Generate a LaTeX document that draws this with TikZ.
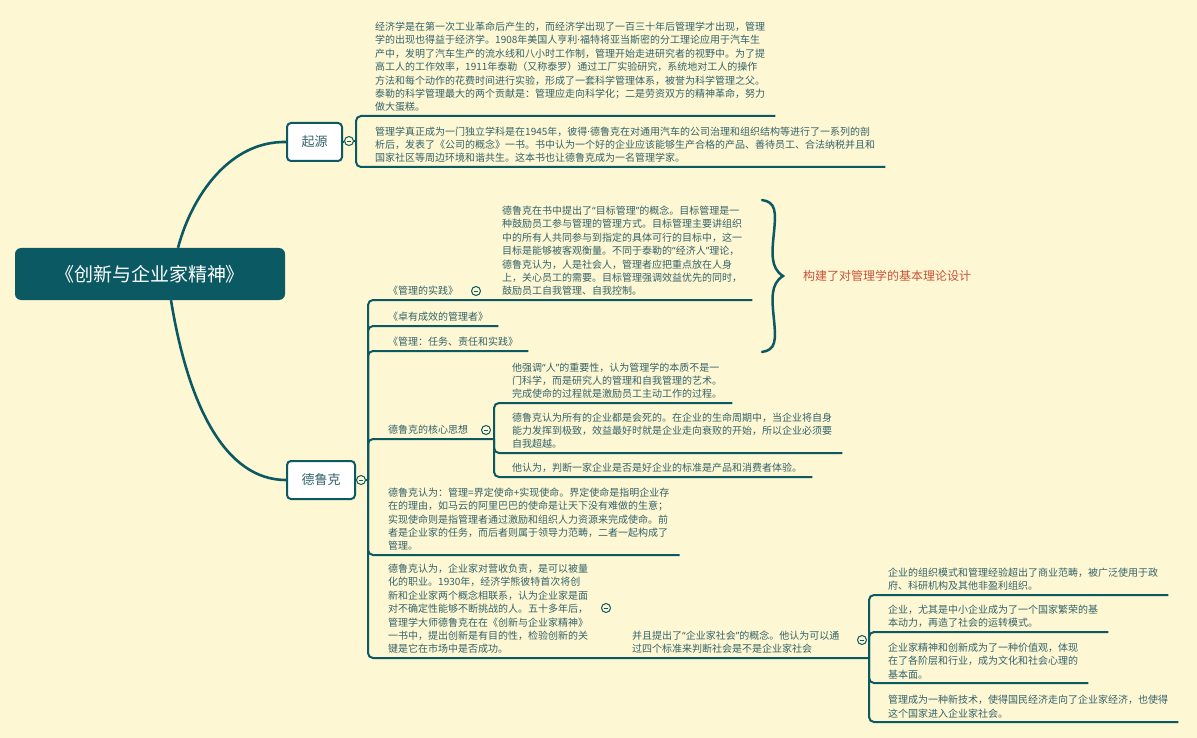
\documentclass[tikz,border=0pt]{standalone}
\usepackage{fontspec}
\setmainfont{Noto Sans CJK SC}
\newfontfamily\narrowfont{Noto Sans}
\newcommand\qtd[1]{{\narrowfont “}#1{\narrowfont ”}}
\newcommand\mdot{{\narrowfont ·}}

\definecolor{mapbg}{HTML}{FEF7D3}
\definecolor{mapteal}{HTML}{0B5A63}
\definecolor{maptext}{HTML}{33636A}
\definecolor{mapred}{HTML}{C8533A}

\begin{document}
\begin{tikzpicture}[x=1pt, y=-1pt,
                    link/.style={draw=mapteal, line width=2pt, rounded corners=5pt},
                    branch/.style={draw=mapteal, line width=2.6pt},
                    topic/.style={draw=mapteal, line width=2pt, fill=white, rounded corners=4pt, text=maptext,
                                  font=\fontsize{13}{15}\selectfont, minimum height=38pt, inner sep=0pt},
                    leaf/.style={anchor=south west, align=left, text=maptext,
                                 font=\fontsize{10}{13.4}\selectfont, inner xsep=10pt, inner ysep=4pt},
                    fold/.style={circle, draw=mapteal, line width=1pt, fill=mapbg, minimum size=9pt, inner sep=0pt,
                                 path picture={\draw[mapteal, line width=0.9pt]
                                   ([xshift=-2.3pt]path picture bounding box.center) --
                                   ([xshift=2.3pt]path picture bounding box.center);}}
]

% Background fixes the page size
\fill[mapbg] (0,0) rectangle (1197,738);

% Central topic and the two main topics
\node [fill=mapteal, rounded corners=6pt, minimum width=270pt, minimum height=52pt,
       text=white, font=\fontsize{19}{22}\selectfont] (root) at (150,274) {《创新与企业家精神》};
\node [topic, minimum width=55pt] (origin) at (314.5,142) {起源};
\node [topic, minimum width=68pt] (drucker) at (321,480) {德鲁克};

% Curved branches from the central topic
\draw[branch] ([xshift=28pt]root.north) .. controls (192,195) and (230,141) .. (origin.west);
\draw[branch] ([xshift=21pt]root.south) .. controls (188,405) and (225,480) .. (drucker.west);

% Origin: two underlined paragraphs
\node [fold] (fold-origin) at (349,141) {};
\coordinate (origin-fork) at (356,141);

\node [leaf] (origin-econ) at (365,116)
    {经济学是在第一次工业革命后产生的，而经济学出现了一百三十年后管理学才出现，管理\\
     学的出现也得益于经济学。1908年美国人亨利\mdot 福特将亚当斯密的分工理论应用于汽车生\\
     产中，发明了汽车生产的流水线和八小时工作制，管理开始走进研究者的视野中。为了提\\
     高工人的工作效率，1911年泰勒（又称泰罗）通过工厂实验研究，系统地对工人的操作\\
     方法和每个动作的花费时间进行实验，形成了一套科学管理体系，被誉为科学管理之父。\\
     泰勒的科学管理最大的两个贡献是：管理应走向科学化；二是劳资双方的精神革命，努力\\
     做大蛋糕。};
\node [leaf] (origin-1945) at (365,167)
    {管理学真正成为一门独立学科是在1945年，彼得\mdot 德鲁克在对通用汽车的公司治理和组织结构等进行了一系列的剖\\
     析后，发表了《公司的概念》一书。书中认为一个好的企业应该能够生产合格的产品、善待员工、合法纳税并且和\\
     国家社区等周边环境和谐共生。这本书也让德鲁克成为一名管理学家。};

\draw[link] (origin.east) -- (fold-origin);
\draw[link] (fold-origin) -- (origin-fork);
\draw[link] (origin-fork) |- (origin-econ.south east);
\draw[link] (origin-fork) |- (origin-1945.south east);

% Drucker: books, core ideas and paragraphs
\node [fold] (fold-drucker) at (361,480) {};
\coordinate (drucker-fork) at (368,480);

\node [leaf] (practice) at (378,300) {《管理的实践》};
\node [leaf] (effective) at (378,326) {《卓有成效的管理者》};
\node [leaf] (tasks) at (378,351) {《管理：任务、责任和实践》};
\node [leaf] (core) at (378,439) {德鲁克的核心思想};
\node [leaf] (mission) at (378,555)
    {德鲁克认为：管理=界定使命+实现使命。界定使命是指明企业存\\
     在的理由，如马云的阿里巴巴的使命是让天下没有难做的生意；\\
     实现使命则是指管理者通过激励和组织人力资源来完成使命。前\\
     者是企业家的任务，而后者则属于领导力范畴，二者一起构成了\\
     管理。};
\node [leaf] (entrepreneur) at (378,658)
    {德鲁克认为，企业家对营收负责，是可以被量\\
     化的职业。1930年，经济学熊彼特首次将创\\
     新和企业家两个概念相联系，认为企业家是面\\
     对不确定性能够不断挑战的人。五十多年后，\\
     管理学大师德鲁克在在《创新与企业家精神》\\
     一书中，提出创新是有目的性，检验创新的关\\
     键是它在市场中是否成功。};

\draw[link] (drucker.east) -- (fold-drucker);
\draw[link] (fold-drucker) -- (drucker-fork);

% Goal management under the first book
\node [fold] (fold-practice) at (476,291) {};
\node [leaf] (goal) at (492,300)
    {德鲁克在书中提出了\qtd{目标管理}的概念。目标管理是一\\
     种鼓励员工参与管理的管理方式。目标管理主要讲组织\\
     中的所有人共同参与到指定的具体可行的目标中，这一\\
     目标是能够被客观衡量。不同于泰勒的\qtd{经济人}理论，\\
     德鲁克认为，人是社会人，管理者应把重点放在人身\\
     上，关心员工的需要。目标管理强调效益优先的同时，\\
     鼓励员工自我管理、自我控制。};
\draw[link] (drucker-fork) |- (goal.south east);
\draw[link] (drucker-fork) |- (effective.south east);
\draw[link] (drucker-fork) |- (tasks.south east);
\draw[link] (drucker-fork) |- (mission.south east);

% Core ideas
\node [fold] (fold-core) at (486,430) {};
\coordinate (core-fork) at (494,439);
\node [leaf] (core-human) at (502,403)
    {他强调\qtd{人}的重要性，认为管理学的本质不是一\\
     门科学，而是研究人的管理和自我管理的艺术。\\
     完成使命的过程就是激励员工主动工作的过程。};
\node [leaf] (core-death) at (502,453)
    {德鲁克认为所有的企业都是会死的。在企业的生命周期中，当企业将自身\\
     能力发挥到极致，效益最好时就是企业走向衰败的开始，所以企业必须要\\
     自我超越。};
\node [leaf] (core-product) at (502,477) {他认为，判断一家企业是否是好企业的标准是产品和消费者体验。};
\draw[link] (drucker-fork) |- (core-fork);
\draw[link] (core-fork) |- (core-human.south east);
\draw[link] (core-fork) |- (core-death.south east);
\draw[link] (core-fork) |- (core-product.south east);

% Entrepreneurial society and its four criteria
\node [fold] (fold-entrepreneur) at (606,608) {};
\node [leaf] (society) at (622,658)
    {并且提出了\qtd{企业家社会}的概念。他认为可以通\\
     过四个标准来判断社会是不是企业家社会};
\node [fold] (fold-society) at (862,640) {};
\coordinate (society-fork) at (869,658);
\node [leaf] (society-org) at (878,595)
    {企业的组织模式和管理经验超出了商业范畴，被广泛使用于政\\
     府、科研机构及其他非盈利组织。};
\node [leaf] (society-small) at (878,632)
    {企业，尤其是中小企业成为了一个国家繁荣的基\\
     本动力，再造了社会的运转模式。};
\node [leaf] (society-value) at (878,683)
    {企业家精神和创新成为了一种价值观，体现\\
     在了各阶层和行业，成为文化和社会心理的\\
     基本面。};
\node [leaf] (society-tech) at (878,722)
    {管理成为一种新技术，使得国民经济走向了企业家经济，也使得\\
     这个国家进入企业家社会。};
\draw[link] (drucker-fork) |- (society-fork);
\draw[link] (society-fork) |- (society-org.south east);
\draw[link] (society-fork) |- (society-small.south east);
\draw[link] (society-fork) |- (society-value.south east);
\draw[link] (society-fork) |- (society-tech.south east);

% Brace round the books and its summary
\draw[mapteal, line width=2.5pt, line cap=round]
    (762,200) .. controls (776,202) and (776,212) .. (774,232)
              .. controls (772,252) and (770,268) .. (783,276)
              .. controls (770,284) and (772,300) .. (774,320)
              .. controls (776,340) and (776,350) .. (762,352);
\node [anchor=west, inner sep=0pt, text=mapred, font=\fontsize{12}{14}\selectfont] (theory) at (803,276)
    {构建了对管理学的基本理论设计};

\end{tikzpicture}
\end{document}
